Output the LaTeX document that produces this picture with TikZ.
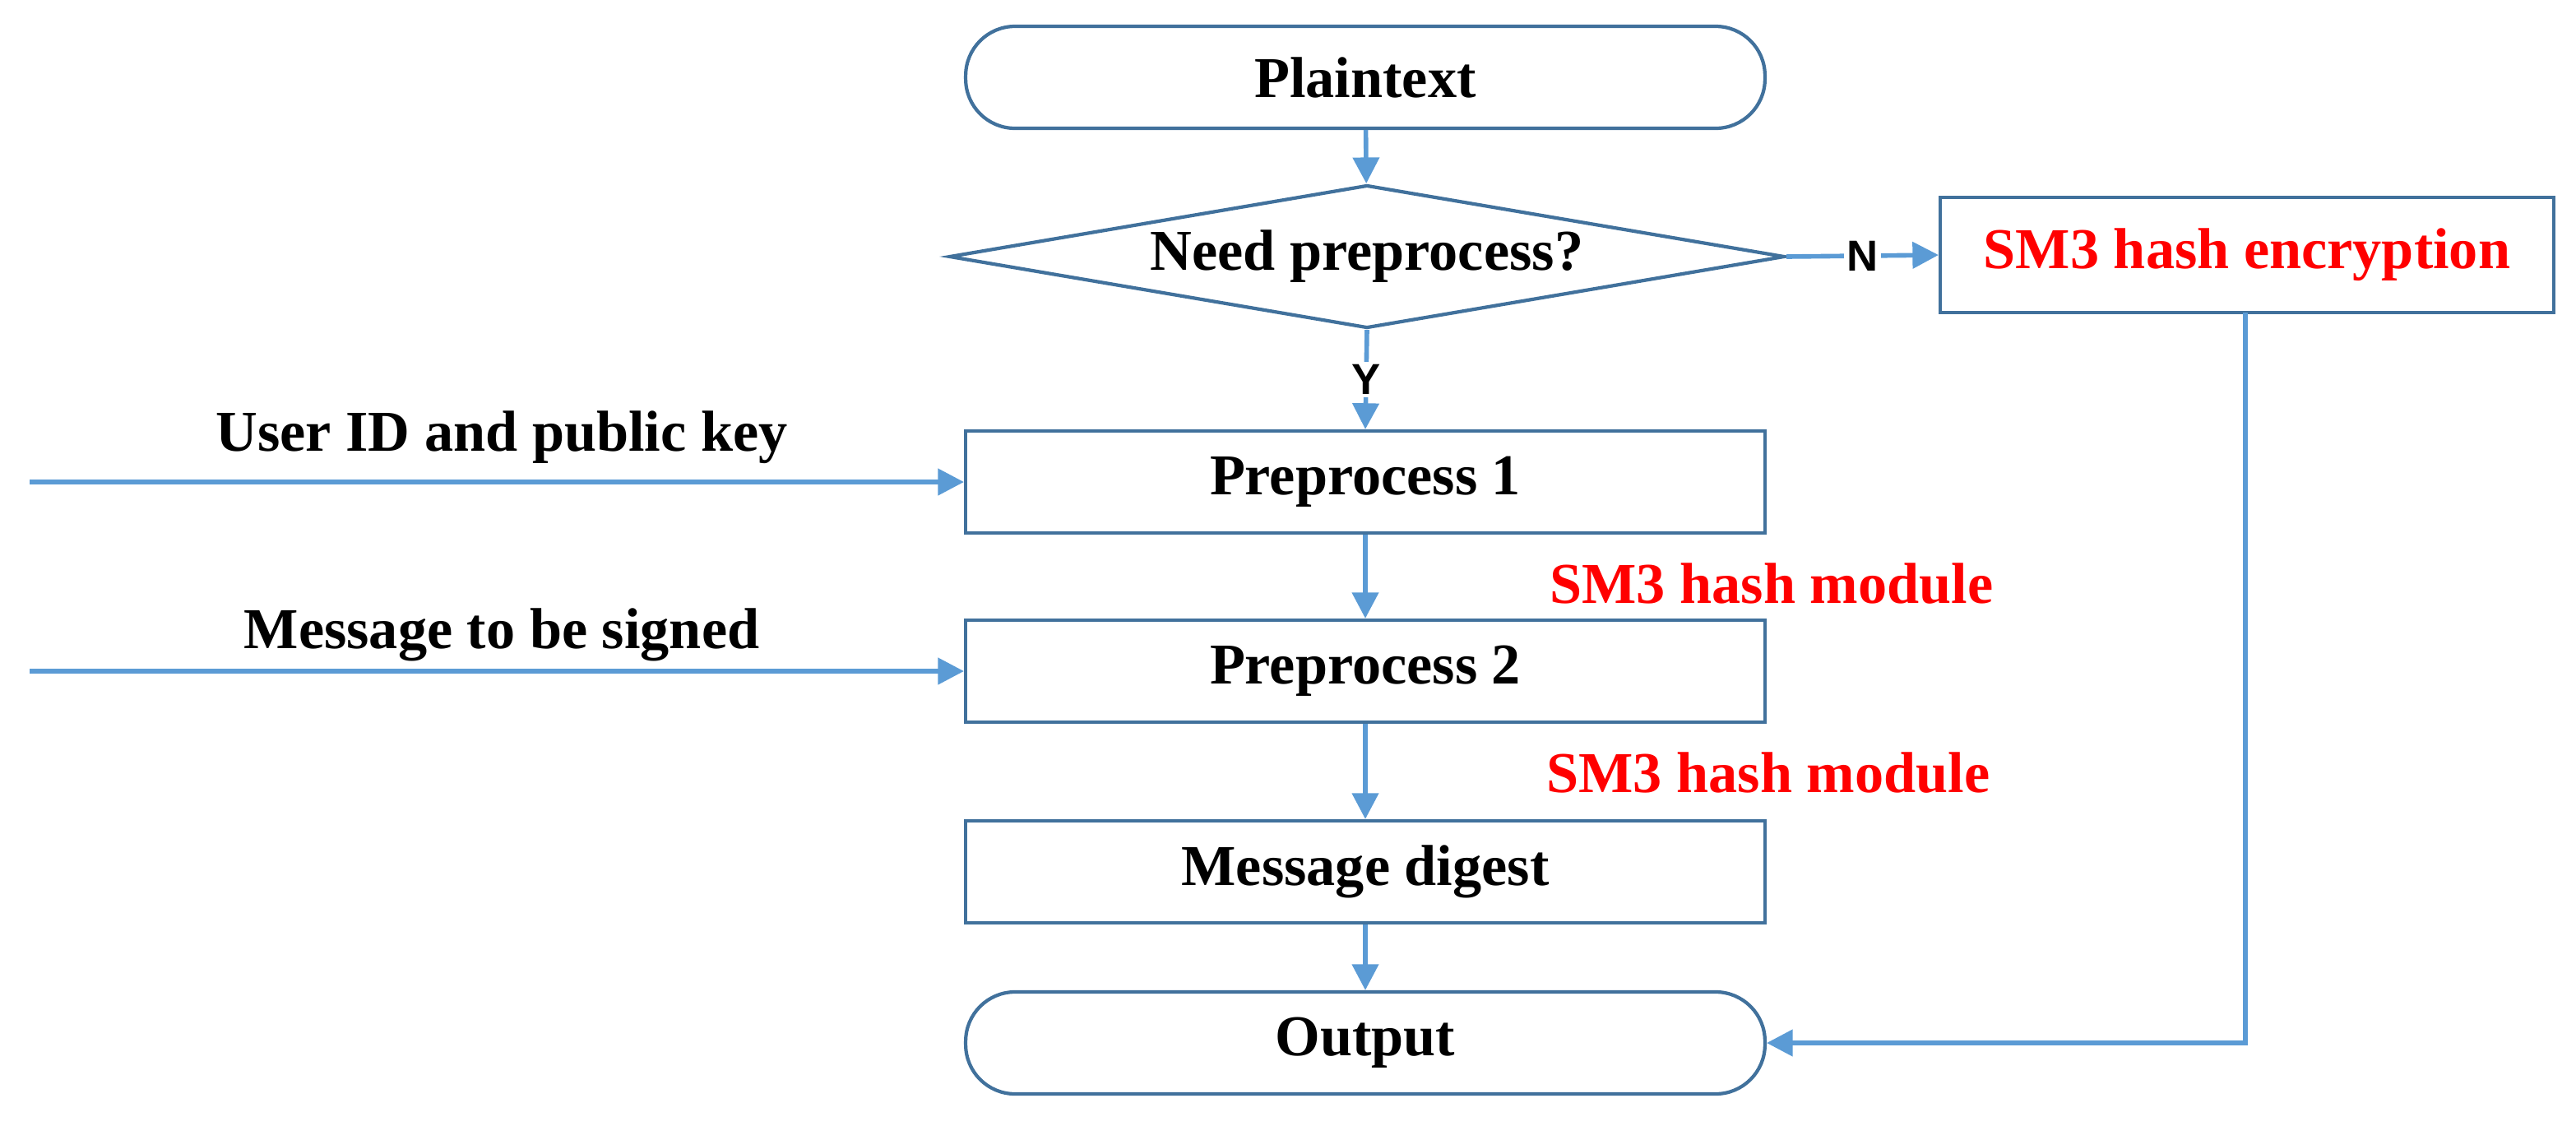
\documentclass[tikz,border=0pt]{standalone}
\usepackage{fontspec}
\setmainfont{Liberation Serif}
\newfontfamily\sansf{Liberation Sans}
\usetikzlibrary{shapes.geometric,arrows.meta}
\definecolor{bord}{HTML}{41719C}
\definecolor{arr}{HTML}{5B9BD5}
\begin{document}
\begin{tikzpicture}[x=0.02cm,y=-0.02cm,
  box/.style={draw=bord,line width=1.2pt,minimum width=9.72cm,minimum height=1.24cm,font=\fontsize{20}{24}\selectfont\bfseries},
  term/.style={box,rounded corners=0.6cm},
  con/.style={draw=arr,line width=1.6pt,-{Triangle[length=9pt,width=9pt]}},
  lab/.style={font=\fontsize{20}{24}\selectfont\bfseries},
  red/.style={lab,text=red}]
\useasboundingbox (0,0) rectangle (1566,684);
\node[term] (pt) at (830,47) {Plaintext};
\node[draw=bord,line width=1.2pt,diamond,aspect=5.84,minimum width=10.16cm,minimum height=1.74cm,inner sep=0pt,font=\fontsize{20}{24}\selectfont\bfseries] (dec) at (831,156) {Need preprocess?};
\node[box,minimum width=7.46cm,minimum height=1.4cm,text=red] (sm) at (1366,155) {SM3 hash encryption};
\node[box] (p1) at (830,293) {Preprocess 1};
\node[box] (p2) at (830,408) {Preprocess 2};
\node[box] (md) at (830,530) {Message digest};
\node[term] (out) at (830,634) {Output};
\node[lab] (uid) at (305,266) {User ID and public key};
\node[lab] (msg) at (305,386) {Message to be signed};
\node[red] (h1) at (1077,355) {SM3 hash module};
\node[red] (h2) at (1075,470) {SM3 hash module};
\coordinate (a1) at (18,293);
\coordinate (a2) at (18,408);
\coordinate (c0) at (1365,190);
\coordinate (c1) at (1365,634);
\draw[con] (pt) -- (dec);
\draw[con] (dec.east) -- node[fill=white,inner sep=1pt,font=\sansf\fontsize{15}{18}\selectfont\bfseries]{N} (sm.west);
\draw[con] (dec.south) -- node[fill=white,inner sep=1pt,font=\sansf\fontsize{15}{18}\selectfont\bfseries]{Y} (p1.north);
\draw[con] (a1) -- (p1.west);
\draw[con] (a2) -- (p2.west);
\draw[con] (p1) -- (p2);
\draw[con] (p2) -- (md);
\draw[con] (md) -- (out);
\draw[con] (c0) -- (c1) -- (out.east);
\end{tikzpicture}
\end{document}
